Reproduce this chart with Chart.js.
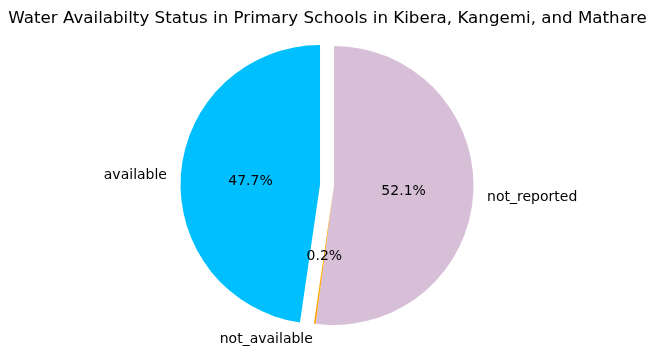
<!DOCTYPE html>
<html>
<head>
<meta charset="utf-8">
<script src="https://cdn.jsdelivr.net/npm/chart.js@4"></script>
<style>
html, body { margin: 0; padding: 0; background: #fff; }
#box { position: relative; width: 655px; height: 355px; }
#box canvas { position: absolute; left: 0; top: 0; }
</style>
</head>
<body>
<div id="box">
  <canvas id="pullChart" width="655" height="355"></canvas>
  <canvas id="pieChart" width="655" height="355"></canvas>
</div>
<script>
// slices listed clockwise from the top
const labels = ["not_reported", "not_available", "available"];
const shares = [52.1, 0.2, 47.7];
const colors = ["#D8BFD8", "#FFA500", "#00BFFF"];
const pull = [0, 0, 14];   // explode distance, px
const titleText = "Water Availabilty Status in Primary Schools in Kibera, Kangemi, and Mathare";

const R = 139.5;
const base = { left: 13, right: 0, top: 16, bottom: 0 };

// chart.js grows the radius of an offset arc, so the exploded slice
// is drawn by a second pie whose centre is shifted instead
const total = shares.reduce((a, b) => a + b, 0);
const midAngle = [];
let run = 0;
shares.forEach(v => {
  midAngle.push(((run + v / 2) / total) * 2 * Math.PI - Math.PI / 2);
  run += v;
});
const pi = pull.indexOf(Math.max(...pull));
const dx = pull[pi] * Math.cos(midAngle[pi]);
const dy = pull[pi] * Math.sin(midAngle[pi]);

const sliceText = {
  id: "sliceText",
  afterDatasetsDraw(chart) {
    const ctx = chart.ctx;
    const meta = chart.getDatasetMeta(0);
    const nudge = 1.5; // matplotlib centres the full text box, descent included
    ctx.save();
    ctx.font = "14px 'DejaVu Sans'";
    ctx.fillStyle = "#000";
    ctx.textBaseline = "middle";
    meta.data.forEach((arc, i) => {
      const mid = (arc.startAngle + arc.endAngle) / 2;
      const cx = arc.x + pull[i] * Math.cos(mid);
      const cy = arc.y + pull[i] * Math.sin(mid) + nudge;
      const r = arc.outerRadius;
      ctx.textAlign = "center";
      ctx.fillText(shares[i].toFixed(1) + "%", cx + 0.5 * r * Math.cos(mid), cy + 0.5 * r * Math.sin(mid));
      ctx.textAlign = Math.cos(mid) < 0 ? "right" : "left";
      ctx.fillText(labels[i], cx + 1.1 * r * Math.cos(mid), cy + 1.1 * r * Math.sin(mid));
    });
    ctx.font = "16.7px 'DejaVu Sans'";
    ctx.textAlign = "center";
    ctx.fillText(titleText, chart.width / 2, 19);
    ctx.restore();
  }
};

function makePie(id, fills, padding, extra) {
  return new Chart(document.getElementById(id), {
    type: "pie",
    data: {
      labels: labels,
      datasets: [{ data: shares, backgroundColor: fills, borderWidth: 0, hoverOffset: 0 }]
    },
    options: {
      responsive: false,
      animation: false,
      events: [],
      radius: R,
      layout: { padding: padding },
      plugins: { legend: { display: false }, title: { display: false }, tooltip: { enabled: false } }
    },
    plugins: extra
  });
}

makePie("pullChart",
  colors.map((c, i) => pull[i] ? c : "rgba(0,0,0,0)"),
  { left: base.left + 2 * dx > 0 ? base.left + 2 * dx : 0,
    right: base.left + 2 * dx > 0 ? base.right : base.right - base.left - 2 * dx,
    top: base.top + 2 * dy > 0 ? base.top + 2 * dy : 0,
    bottom: base.top + 2 * dy > 0 ? base.bottom : base.bottom - base.top - 2 * dy },
  []);

makePie("pieChart",
  colors.map((c, i) => pull[i] ? "rgba(0,0,0,0)" : c),
  base,
  [sliceText]);
</script>
</body>
</html>
